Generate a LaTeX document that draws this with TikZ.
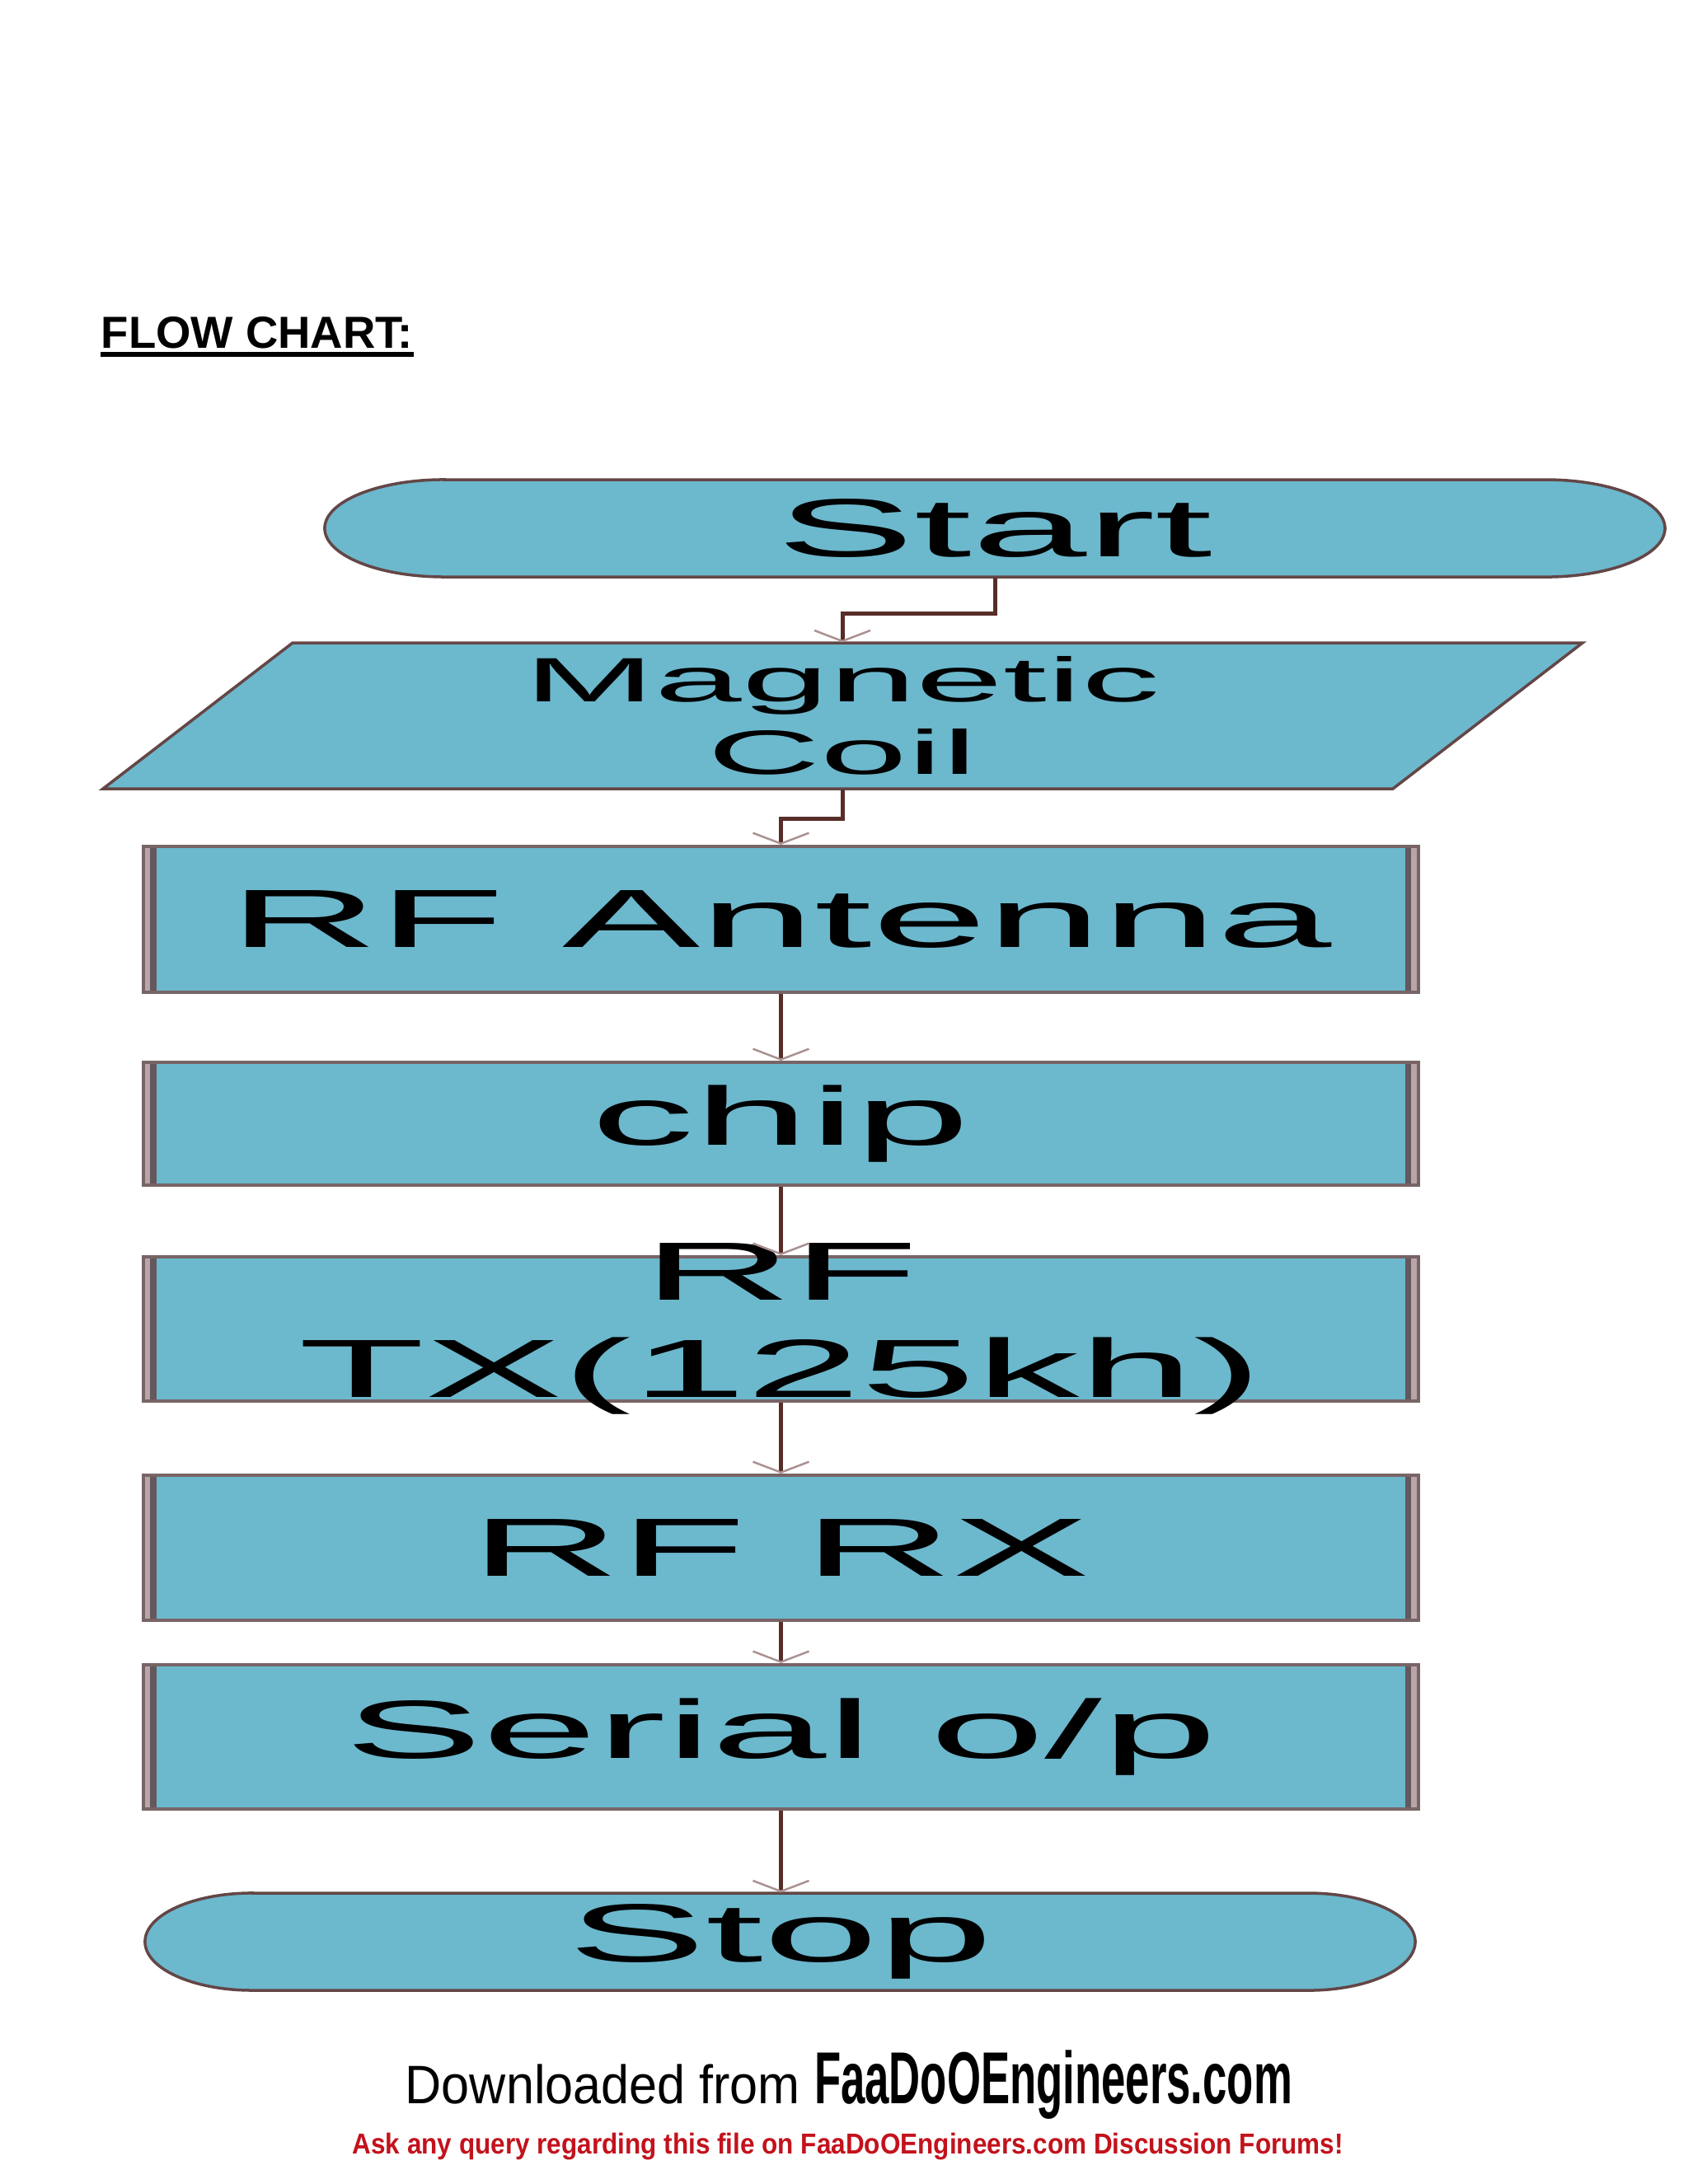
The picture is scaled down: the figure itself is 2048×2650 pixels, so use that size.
\documentclass[tikz,border=0pt]{standalone}
\usepackage{fontspec}
\setmainfont{Liberation Sans}
\newfontfamily\boxfont[FakeStretch=2.5]{Liberation Sans}
\newfontfamily\dlfont[FakeStretch=0.93]{Liberation Sans}
\newfontfamily\faafont[FakeStretch=0.59]{Liberation Sans}
\newfontfamily\redfont[FakeStretch=0.9]{Liberation Sans}
\usetikzlibrary{arrows.meta}

\definecolor{boxblue}{RGB}{108,184,205}
\definecolor{boxedge}{RGB}{120,100,102}
\definecolor{sidelight}{RGB}{185,165,168}
\definecolor{sidedark}{RGB}{100,88,92}
\definecolor{termedge}{RGB}{100,70,70}
\definecolor{flowline}{RGB}{88,45,40}
\definecolor{tipgrey}{RGB}{170,145,145}
\definecolor{redtext}{RGB}{195,18,28}

\begin{document}
\begin{tikzpicture}[x=0.01cm, y=-0.01cm,
    termline/.style={fill=boxblue, draw=termedge, line width=0.035cm},
    termtext/.style={inner sep=0pt, minimum height=1.18cm, font=\boxfont\fontsize{28.5}{34}\selectfont},
    boxnode/.style={rectangle, fill=boxblue, draw=boxedge, line width=0.04cm, minimum width=15.47cm, inner sep=0pt,
        font=\boxfont\fontsize{28.5}{34}\selectfont,
        path picture={
            \fill[sidelight] (path picture bounding box.north west) rectangle ([xshift=0.08cm]path picture bounding box.south west);
            \fill[sidedark] ([xshift=0.08cm]path picture bounding box.north west) rectangle ([xshift=0.16cm]path picture bounding box.south west);
            \fill[sidelight] (path picture bounding box.north east) rectangle ([xshift=-0.09cm]path picture bounding box.south east);
            \fill[sidedark] ([xshift=-0.09cm]path picture bounding box.north east) rectangle ([xshift=-0.16cm]path picture bounding box.south east);
        }},
    flow/.style={draw=flowline, line width=0.05cm, -{Straight Barb[length=0.13cm, width=0.68cm, line width=0.025cm, color=tipgrey]}}]
    \fill[white] (0,0) rectangle (2048,2650);
    \useasboundingbox (0,0) rectangle (2048,2650);

    % heading
    \node[anchor=base west, inner sep=0pt, font=\bfseries\fontsize{15.5}{18}\selectfont] (title) at (122,422) {FLOW CHART:};
    \draw[line width=0.06cm] ([yshift=-0.08cm]title.base west) -- ([yshift=-0.08cm]title.base east);

    % terminals and input shape
    \draw[termline] (539,582) -- (1875,582) arc[start angle=90, end angle=-90, x radius=1.45cm, y radius=0.59cm]
        -- (539,700) arc[start angle=270, end angle=90, x radius=1.45cm, y radius=0.59cm] -- cycle;
    \draw[termline] (355,780) -- (1920,780) -- (1690,957) -- (125,957) -- cycle;
    \draw[termline] (306,2297) -- (1587,2297) arc[start angle=90, end angle=-90, x radius=1.3cm, y radius=0.59cm]
        -- (306,2415) arc[start angle=270, end angle=90, x radius=1.3cm, y radius=0.59cm] -- cycle;

    \node[termtext] (start) at (1207,641) {Start};
    \node[inner sep=0pt, minimum height=1.77cm, align=center, font=\boxfont\fontsize{21.6}{25}\selectfont] (coil) at (1022,868.5) {Magnetic\\Coil};
    \node[boxnode, minimum height=1.77cm] (antenna) at (947.5,1115.5) {RF Antenna};
    \node[boxnode, minimum height=1.49cm] (chip) at (947.5,1363.5) {chip};
    \node[boxnode, minimum height=1.75cm] (rftx) at (947.5,1612.5) {};
    \node[inner sep=0pt, align=center, font=\boxfont\fontsize{28.5}{33.6}\selectfont] (rftxtext) at (rftx.center) {RF\\TX(125kh)};
    \node[boxnode, minimum height=1.76cm] (rfrx) at (947.5,1878) {RF RX};
    \node[boxnode, minimum height=1.75cm] (serial) at (947.5,2107.5) {Serial o/p};
    \node[termtext] (stop) at (947,2356) {Stop};

    \draw[flow] (start.south) -- ++(0,44) -| (coil.north);
    \draw[flow] (coil.south) -- ++(0,36) -| (antenna.north);
    \draw[flow] (antenna) -- (chip);
    \draw[flow] (chip) -- (rftx);
    \draw[flow] (rftx) -- (rfrx);
    \draw[flow] (rfrx) -- (serial);
    \draw[flow] (serial.south) -- (serial.south |- stop.north);

    % footer
    \node[anchor=base west, inner sep=0pt] (dl) at (491,2552)
        {{\dlfont\fontsize{18.7}{22}\selectfont Downloaded from }{\faafont\bfseries\fontsize{25.4}{30}\selectfont FaaDoOEngineers.com}};
    \node[anchor=base west, inner sep=0pt, text=redtext, font=\redfont\bfseries\fontsize{9.95}{12}\selectfont] (ask) at (427,2613)
        {Ask any query regarding this file on FaaDoOEngineers.com Discussion Forums!};
\end{tikzpicture}
\end{document}
